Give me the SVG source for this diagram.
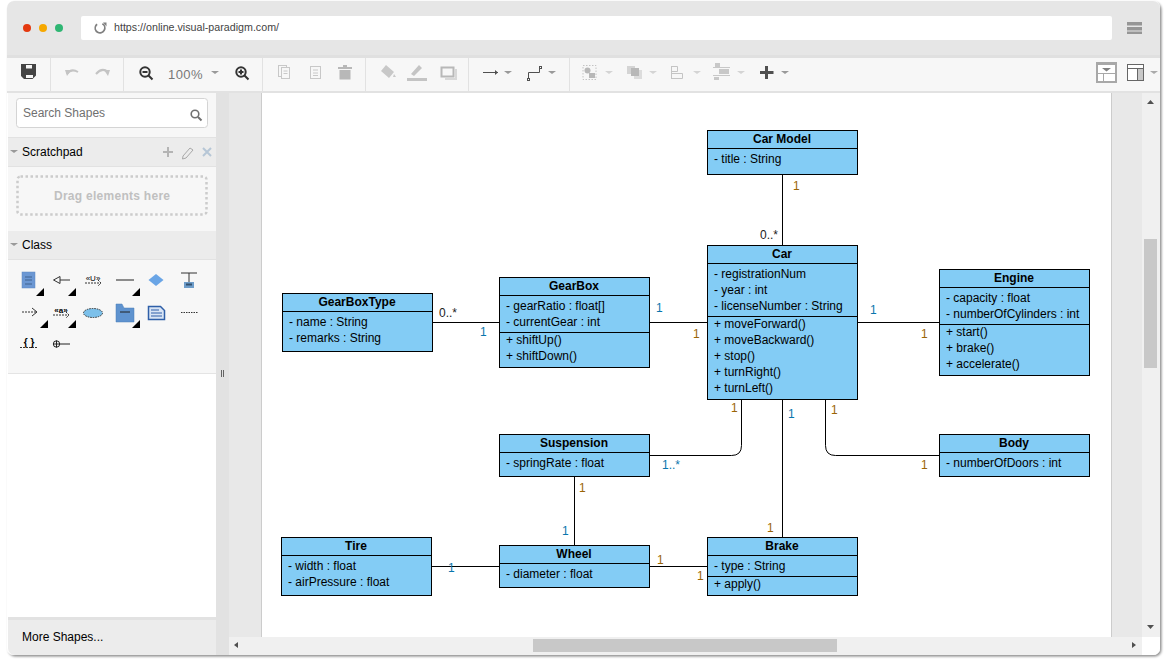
<svg xmlns="http://www.w3.org/2000/svg" width="1170" height="665" viewBox="0 0 1170 665">
<style>
text{font-family:"Liberation Sans",Arial,sans-serif;font-size:12px;fill:#000}
.t{font-weight:bold;text-anchor:middle}
.box{fill:#83ccf5;stroke:#000;stroke-width:1}
.ln{stroke:#000;stroke-width:1;fill:none}
.b{fill:#0876ad}
.o{fill:#9a6505}
.k{fill:#222}
.tb{fill:#b8b8b8}
.tbs{stroke:#b8b8b8;fill:none}
.dk{fill:#505050}
.sep{stroke:#e2e2e2;stroke-width:1}
.ic{stroke:#333;fill:none;stroke-width:1}
.dash{stroke:#333;fill:none;stroke-width:1;stroke-dasharray:2 1}
</style>
<defs>
<filter id="sh" x="-2%" y="-2%" width="104%" height="104%"><feDropShadow dx="1.5" dy="1.5" stdDeviation="1.2" flood-color="#000" flood-opacity="0.45"/></filter>
<path id="car" d="M0 0h8l-4 3z"/>
<path id="corner" d="M8 0v8h-8z"/>
</defs>
<rect width="1170" height="665" fill="#fff"/>
<!-- window -->
<rect x="7" y="1" width="1153" height="654" rx="7" fill="#fff" filter="url(#sh)"/>
<path d="M7 55V8a7 7 0 0 1 7-7H1153a7 7 0 0 1 7 7V55z" fill="#e6e6e6"/>
<rect x="7" y="55" width="1153" height="3" fill="#e0e0e0"/>
<rect x="7" y="58" width="1153" height="33" fill="#f7f7f7"/>
<rect x="7" y="91" width="1153" height="2" fill="#e2e2e2"/>
<circle cx="27" cy="28" r="4" fill="#e4390f"/>
<circle cx="43" cy="28" r="4" fill="#f6a800"/>
<circle cx="59" cy="28" r="4" fill="#2fb673"/>
<rect x="81" y="16" width="1031" height="24" rx="2" fill="#fff"/>
<circle cx="100" cy="28" r="4.800" fill="none" stroke="#808080" stroke-width="1.800" stroke-dasharray="24 6" transform="rotate(-60 100 28)"/>
<path d="M103 22.500h3.500v4z" fill="#808080"/>
<text x="114" y="31" textLength="165" lengthAdjust="spacingAndGlyphs" style="font-size:11px;fill:#444">https://online.visual-paradigm.com/</text>
<rect x="1127" y="22" width="15" height="3.500" fill="#969696"/><rect x="1127" y="27" width="15" height="3.500" fill="#969696"/><rect x="1127" y="31.500" width="15" height="2.500" fill="#969696"/>
<!-- toolbar -->
<path class="sep" d="M50.500 58V91M123.500 58V91M262.500 58V91M365.500 58V91M468.500 58V91M569.500 58V91"/>
<path fill-rule="evenodd" fill="#444" d="M21 64h15v11.500l-3.500 3.500H24l-3-3zM26 65v3.500h6V65zM26 75v3h7v-3z"/>
<path d="M67 74q4-6 11-2M108 72q-6-5-12 2" fill="none" stroke="#c4c4c4" stroke-width="2"/>
<path fill="#c4c4c4" d="M65 70l6 0-4 6zM110 70l-6 0 4 6z"/>
<g style="stroke:#333;fill:none;stroke-width:2"><circle cx="145" cy="72" r="4.700"/><path d="M148.500 75.500l4 4M142.500 72h5"/></g>
<text x="168" y="78.500" style="font-size:13px;fill:#777;letter-spacing:.4px">100%</text>
<use href="#car" x="211" y="71" fill="#999"/>
<g style="stroke:#333;fill:none;stroke-width:2"><circle cx="241" cy="72" r="4.700"/><path d="M244.500 75.500l4 4M238.500 72h5M241 69.500v5"/></g>
<g class="tbs" style="stroke:#c8c8c8"><rect x="278.500" y="65.500" width="8" height="11"/><rect x="281.500" y="67.500" width="8" height="11" fill="#f7f7f7"/><rect x="310.500" y="66.500" width="10" height="12"/><path d="M313 70h5M313 73h5M313 75.500h5M283.500 71h4M283.500 73.500h4"/></g>
<path class="tb" d="M338 67h14v2h-14zM343 65h4v2h-4zM339.500 70h11v9.500h-11z"/>
<path d="M386 65l8 7-5 6-8-7zM394 74l2 3h-3z" fill="#c8c8c8"/>
<path d="M411 74l8-9 3 3-8 8zM407 78h20v3h-20z" fill="#c4c4c4"/>
<path d="M445 79h11v-10" fill="none" stroke="#d8d8d8" stroke-width="2"/>
<rect x="441.500" y="67.500" width="12" height="9" fill="#f7f7f7" stroke="#b8b8b8" stroke-width="2"/>
<path d="M483 72.500h15" stroke="#505050" fill="none"/><path class="dk" d="M495 70l3 2.500-3 2.500z"/>
<use href="#car" x="504" y="71" fill="#999"/>
<path d="M528.500 78v-5.500h11v-5" stroke="#505050" fill="none"/>
<rect x="527.500" y="78.500" width="2" height="2" fill="#fff" stroke="#505050"/><rect x="539.500" y="66.500" width="2" height="2" fill="#fff" stroke="#505050"/>
<use href="#car" x="548" y="71" fill="#999"/>
<rect x="583" y="65.500" width="13" height="14" fill="none" stroke="#c4c4c4" stroke-dasharray="1.500 1.500"/>
<circle cx="587.500" cy="70.500" r="3" fill="#b8b8b8"/><rect x="589" y="73" width="6" height="5" fill="#b8b8b8"/>
<use href="#car" x="605" y="71" fill="#d4d4d4"/>
<rect x="634" y="70" width="8" height="9" fill="#dcdcdc"/><rect x="627" y="66" width="8" height="8" fill="#d4d4d4"/><rect x="631" y="68" width="8" height="8" fill="#b8b8b8"/>
<use href="#car" x="649" y="71" fill="#d4d4d4"/>
<path fill="none" stroke="#c4c4c4" d="M671.500 66v13M671.500 66.500h6v5h-6M671.500 73.500h11v5h-11"/>
<use href="#car" x="693" y="71" fill="#d4d4d4"/>
<path fill="#c8c8c8" d="M713 67h17v1h-17zM713 75h17v1h-17zM715 63h5v4h-5zM719 69h10v5h-10zM714 77h5v3h-5z"/>
<use href="#car" x="737" y="71" fill="#d4d4d4"/>
<path class="dk" d="M765 66h3v5h5.500v3H768v5h-3v-5h-5v-3h5z"/>
<use href="#car" x="781" y="71" fill="#999"/>
<rect x="1096" y="62" width="21" height="21" fill="#a8a8a8"/>
<rect x="1098" y="65" width="17" height="16" fill="#fff"/>
<path d="M1098 73.500h17M1103.500 73.500v7.500" stroke="#a8a8a8"/><path d="M1102 68h9l-4.500 3.500z" fill="#808080"/>
<rect x="1127.500" y="64.500" width="16" height="16" fill="#fff" stroke="#666"/>
<rect x="1138" y="69" width="5" height="11" fill="#c8c8c8"/><path d="M1127.500 68.500h16M1137.500 68.500v12" stroke="#666"/>
<use href="#car" x="1150" y="71" fill="#aaa"/>
<!-- sidebar -->
<rect x="8" y="93" width="208" height="280" fill="#f7f7f7"/>
<rect x="8" y="373" width="208" height="245" fill="#fff"/>
<rect x="8" y="373" width="208" height="1" fill="#e4e4e4"/>
<path d="M8 617H216V655H15a7 7 0 0 1-7-7z" fill="#ececec"/>
<rect x="8" y="617" width="208" height="3" fill="#e2e2e2"/>
<rect x="216" y="93" width="13" height="562" fill="#e2e2e2"/>
<path d="M221.500 370v7M223.500 370v7" stroke="#555" stroke-width=".9"/>
<rect x="16.500" y="98.500" width="191" height="29" rx="3" fill="#fff" stroke="#d4d4d4"/>
<text x="23" y="117" style="fill:#707070">Search Shapes</text>
<circle cx="195" cy="114" r="3.800" fill="none" stroke="#707070" stroke-width="1.600"/><path d="M198 117l3.500 3.500" stroke="#707070" stroke-width="2"/>
<rect x="8" y="137" width="208" height="1" fill="#e2e2e2"/>
<rect x="8" y="138" width="208" height="28" fill="#ececec"/><rect x="8" y="166" width="208" height="1" fill="#e2e2e2"/>
<use href="#car" x="10" y="150" fill="#999"/>
<text x="22" y="156">Scratchpad</text>
<path d="M168 147v10M163 152h10" stroke="#b4b4b4" stroke-width="2"/>
<path d="M183 156l7-8 3 2-7 8-3.500 1z" fill="none" stroke="#a8a8a8"/>
<path d="M203 148l8 8M211 148l-8 8" stroke="#b6c6d6" stroke-width="2"/>
<rect x="17.500" y="176.500" width="189" height="38" rx="3" fill="none" stroke="#ccc" stroke-width="2.500" stroke-dasharray="2.500 2.500"/>
<text x="54" y="200" textLength="116" style="font-weight:bold;fill:#c0c0c0">Drag elements here</text>
<rect x="8" y="231" width="208" height="28" fill="#ececec"/><rect x="8" y="259" width="208" height="1" fill="#e2e2e2"/>
<use href="#car" x="10" y="243" fill="#999"/>
<text x="22" y="249">Class</text>
<!-- palette -->
<rect x="22" y="272" width="13" height="16" fill="#6b97d3" stroke="#5b86c0" stroke-width=".5"/><path d="M25 277h7M25 280h7M25 284h7" stroke="#40628f"/>
<use href="#corner" x="36" y="288"/><use href="#corner" x="68" y="288"/><use href="#corner" x="132" y="288"/>
<path class="ic" d="M60 280h10M60 276.500l-6.500 3.500 6.500 3.500z"/>
<text x="93" y="281" text-anchor="middle" style="font-size:8px">«U»</text>
<path class="dash" d="M85 283h16M98 280l3 3-3 3"/>
<path d="M116 280h18" stroke="#8c8c8c" stroke-width="2"/>
<path d="M156 274l7.500 6-7.500 6-7.500-6z" fill="#6aa5e6"/>
<path d="M181 273h16M189 273v9" stroke="#333"/><rect x="184" y="282" width="10" height="6" fill="#6d9cc9"/><rect x="186" y="283.500" width="6" height="2" fill="#33506e"/>
<path class="dash" d="M22 312h14"/><path class="ic" d="M32 308l5 4-5 4"/>
<use href="#corner" x="40" y="320"/>
<text x="61" y="313" text-anchor="middle" style="font-size:8px;font-weight:bold">«a»</text>
<path class="dash" d="M53 315h16M66 312l3 3-3 3"/><use href="#corner" x="68" y="320"/>
<ellipse cx="93" cy="313" rx="9.500" ry="4.500" fill="#7cc0ea" stroke="#333" stroke-dasharray="1.500 1"/>
<path d="M116 308v-4h6l2 4h10v14h-18z" fill="#5f93cf" stroke="#4a7cb6" stroke-width=".5"/><path d="M120 312h10" stroke="#222"/>
<use href="#corner" x="132" y="320"/>
<path d="M148.500 306.500h12l4 4v9h-16z" fill="#d8e4f5" stroke="#2f5fa8" stroke-width="1.500"/><path d="M151 310h8M151 313h11M151 316h11" stroke="#2f5fa8"/>
<path d="M181 312.500h17" stroke="#333" stroke-dasharray="1.500 1"/>
<text x="29" y="346" text-anchor="middle" style="font-size:10px;font-weight:bold">{ }</text>
<path class="dash" d="M20 347.500h18"/>
<circle cx="56.500" cy="344" r="3.200" fill="none" stroke="#222"/><path d="M53 344h17M56.500 340.500v7" stroke="#222"/>
<text x="22" y="641">More Shapes...</text>
<!-- canvas -->
<rect x="229" y="93" width="913" height="544" fill="#e8e8e8"/>
<rect x="262" y="93" width="849" height="544" fill="#fff"/>
<path d="M261.500 93V637M1111.500 93V637" stroke="#ccc"/>
<rect x="1142" y="93" width="18" height="544" fill="#f0f0f0"/>
<rect x="229" y="637" width="913" height="18" fill="#f0f0f0"/>
<path d="M1142 637h18v11a7 7 0 0 1-7 7h-11z" fill="#fff"/>
<rect x="1144" y="239" width="13" height="129" fill="#c8c8c8"/>
<rect x="533" y="639" width="304" height="13" fill="#c8c8c8"/>
<path class="dk" d="M1147 104l3.500-4 3.500 4zM1147 625l3.500 4 3.500-4zM238 642v6l-4-3zM1132 642v6l4-3z"/>
<!-- connectors -->
<g id="connectors">
<path class="ln" d="M782.500 174.500V245.500"/>
<path class="ln" d="M432.500 322.500H499.500"/>
<path class="ln" d="M649.500 322.500H707.500"/>
<path class="ln" d="M857.500 322.500H939.500"/>
<path class="ln" d="M649.500 455.500H731.500Q741.500 455.500 741.500 445.500V399.500"/>
<path class="ln" d="M782.500 399.500V537.500"/>
<path class="ln" d="M825.500 399.500V445.500Q825.500 455.500 835.500 455.500H939.500"/>
<path class="ln" d="M574.500 476.500V545.500"/>
<path class="ln" d="M431.500 566.500H499.500"/>
<path class="ln" d="M649.500 566.500H707.500"/>
</g>
<g id="labels">
<text x="793" y="190" class="o">1</text>
<text x="760" y="239" class="k">0..*</text>
<text x="439" y="317" class="k">0..*</text>
<text x="480" y="336" class="b">1</text>
<text x="656" y="312" class="b">1</text>
<text x="693" y="338" class="o">1</text>
<text x="870" y="314" class="b">1</text>
<text x="921" y="338" class="o">1</text>
<text x="731" y="412" class="o">1</text>
<text x="788" y="418" class="b">1</text>
<text x="831" y="414" class="o">1</text>
<text x="662" y="469" class="b">1..*</text>
<text x="921" y="469" class="o">1</text>
<text x="579" y="492" class="o">1</text>
<text x="562" y="535" class="b">1</text>
<text x="767" y="532" class="o">1</text>
<text x="657" y="564" class="o">1</text>
<text x="697" y="580" class="o">1</text>
<text x="448" y="572" class="b">1</text>
</g>
<!-- nodes -->
<g id="car-model"><rect class="box" x="707.500" y="130.500" width="150" height="44"/><path class="ln" d="M707.500 148.500H857.500"/><text class="t" x="782" y="143">Car Model</text><text x="714" y="163">- title : String</text></g>
<g id="car-node"><rect class="box" x="707.500" y="245.500" width="150" height="154"/><path class="ln" d="M707.500 263.500H857.500M707.500 316.500H857.500"/><text class="t" x="782" y="258">Car</text><text x="714" y="278">- registrationNum</text><text x="714" y="294">- year : int</text><text x="714" y="310">- licenseNumber : String</text><text x="714" y="328">+ moveForward()</text><text x="714" y="344">+ moveBackward()</text><text x="714" y="360">+ stop()</text><text x="714" y="376">+ turnRight()</text><text x="714" y="392">+ turnLeft()</text></g>
<g id="engine"><rect class="box" x="939.500" y="269.500" width="150" height="106"/><path class="ln" d="M939.500 287.500H1089.500M939.500 324.500H1089.500"/><text class="t" x="1014" y="282">Engine</text><text x="946" y="302">- capacity : float</text><text x="946" y="318">- numberOfCylinders : int</text><text x="946" y="336">+ start()</text><text x="946" y="352">+ brake()</text><text x="946" y="368">+ accelerate()</text></g>
<g id="gearbox"><rect class="box" x="499.500" y="277.500" width="150" height="90"/><path class="ln" d="M499.500 295.500H649.500M499.500 332.500H649.500"/><text class="t" x="574" y="290">GearBox</text><text x="506" y="310">- gearRatio : float[]</text><text x="506" y="326">- currentGear : int</text><text x="506" y="344">+ shiftUp()</text><text x="506" y="360">+ shiftDown()</text></g>
<g id="gearboxtype"><rect class="box" x="282.500" y="293.500" width="150" height="58"/><path class="ln" d="M282.500 311.500H432.500"/><text class="t" x="357" y="306">GearBoxType</text><text x="289" y="326">- name : String</text><text x="289" y="342">- remarks : String</text></g>
<g id="suspension"><rect class="box" x="499.500" y="434.500" width="150" height="42"/><path class="ln" d="M499.500 452.500H649.500"/><text class="t" x="574" y="447">Suspension</text><text x="506" y="467">- springRate : float</text></g>
<g id="body"><rect class="box" x="939.500" y="434.500" width="150" height="42"/><path class="ln" d="M939.500 452.500H1089.500"/><text class="t" x="1014" y="447">Body</text><text x="946" y="467">- numberOfDoors : int</text></g>
<g id="wheel"><rect class="box" x="499.500" y="545.500" width="150" height="42"/><path class="ln" d="M499.500 563.500H649.500"/><text class="t" x="574" y="558">Wheel</text><text x="506" y="578">- diameter : float</text></g>
<g id="brake"><rect class="box" x="707.500" y="537.500" width="150" height="58"/><path class="ln" d="M707.500 555.500H857.500M707.500 576.500H857.500"/><text class="t" x="782" y="550">Brake</text><text x="714" y="570">- type : String</text><text x="714" y="588">+ apply()</text></g>
<g id="tire"><rect class="box" x="281.500" y="537.500" width="150" height="58"/><path class="ln" d="M281.500 555.500H431.500"/><text class="t" x="356" y="550">Tire</text><text x="288" y="570">- width : float</text><text x="288" y="586">- airPressure : float</text></g>
</svg>
